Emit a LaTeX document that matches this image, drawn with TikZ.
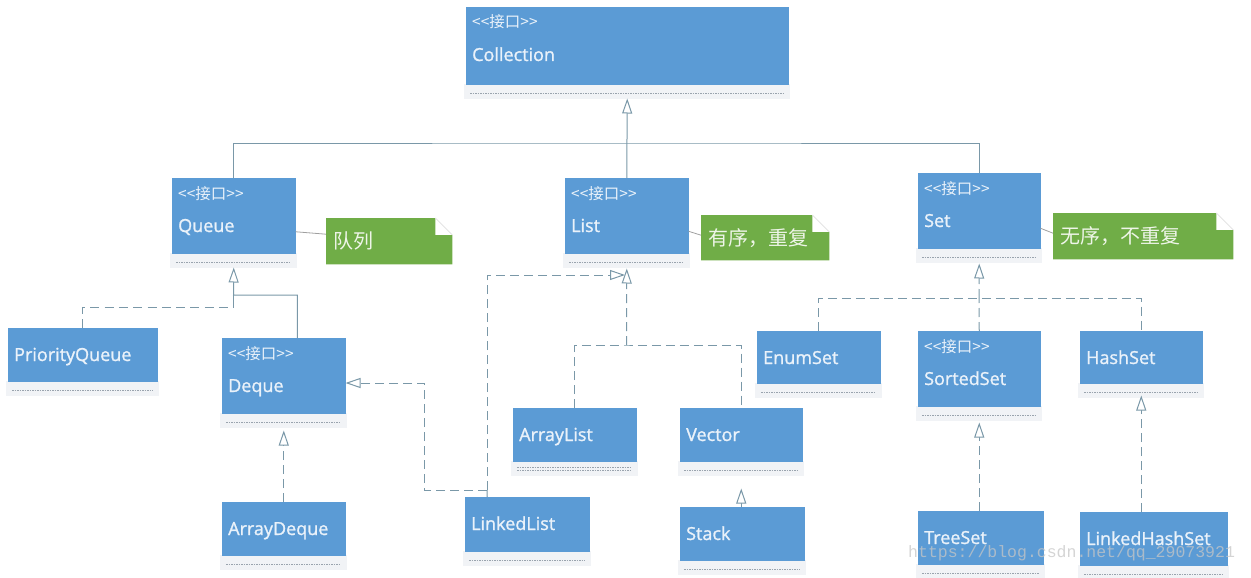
\documentclass[tikz,border=0pt]{standalone}
\usepackage{fontspec}
\setmainfont{Open Sans}
\newfontfamily\namefont[FakeBold=1.2]{Open Sans}
\newfontfamily\cjk{Noto Sans CJK SC}
\newfontfamily\wmfont{Liberation Mono}
\usetikzlibrary{arrows.meta}
\definecolor{boxblue}{HTML}{5B9BD5}
\definecolor{boxtext}{HTML}{EAF2FA}
\definecolor{stripbg}{HTML}{F1F3F6}
\definecolor{stripline}{HTML}{9AA4AE}
\definecolor{conncol}{HTML}{7A98A8}
\definecolor{notegreen}{HTML}{70AD47}
\definecolor{notetext}{HTML}{EEF5E8}
\tikzset{
  box/.style={fill=boxblue, draw=boxblue, line width=0.5pt, inner sep=0pt, rectangle},
  nm/.style={font=\namefont\fontsize{18}{21}\selectfont, text=boxtext, inner sep=0pt, anchor=base west},
  st/.style={font=\cjk\fontsize{15.5}{18}\selectfont, text=boxtext, inner sep=0pt, anchor=base west},
  stripfill/.style={fill=stripbg},
  stripdash/.style={draw=stripline, dash pattern=on 1.5pt off 1pt, line width=0.7pt},
  conn/.style={draw=conncol, line width=1pt},
  dconn/.style={conn, dash pattern=on 9pt off 5pt},
  gen/.style={-{Triangle[length=15pt, width=10pt, fill=white, line width=1pt]}},
  notearea/.style={inner sep=0pt, rectangle},
  notefill/.style={fill=notegreen},
  notefold/.style={draw=gray!25, line width=0.8pt},
  notetxt/.style={font=\cjk\fontsize{20}{24}\selectfont, text=notetext, inner sep=0pt, anchor=west},
  noteline/.style={draw=gray!75, line width=0.8pt},
  wm/.style={font=\wmfont\fontsize{16.5}{18}\selectfont, text=gray!45, opacity=0.75, inner sep=0pt, anchor=west}
}
% name, x, y, w, h
\newcommand\umlstrip[5]{%
  \fill[stripfill] (#2-2,#3+#5) rectangle (#2+#4+2,#3+#5+15);
  \draw[stripdash] (#2+4,#3+#5+9) -- (#2+#4-4,#3+#5+9);
  \node[box, minimum width=#4pt, minimum height=#5pt, anchor=north west] (#1) at (#2,#3) {};
}
% interface box: name, x, y, w, h, label
\newcommand\ifacebox[6]{%
  \umlstrip{#1}{#2}{#3}{#4}{#5}
  \node[st] (#1-st) at (#2+6,#3+21) {<<接口>>};
  \node[nm] (#1-nm) at (#2+6,#3+54) {#6};
}
% class box: name, x, y, w, h, label
\newcommand\classbox[6]{%
  \umlstrip{#1}{#2}{#3}{#4}{#5}
  \node[nm] (#1-nm) at (#2+6,#3+33) {#6};
}
% note: name, x, y, w, h, text
\newcommand\notebox[6]{%
  \node[notearea, minimum width=#4pt, minimum height=#5pt, anchor=north west] (#1) at (#2,#3) {};
  \fill[notefill] (#1.south west) -- (#1.north west) -- ([xshift=-17pt]#1.north east)
     -- ([xshift=-17pt,yshift=-17pt]#1.north east) -- ([yshift=-17pt]#1.north east)
     -- (#1.south east) -- cycle;
  \draw[notefold] ([xshift=-17pt]#1.north east) -- ([yshift=-17pt]#1.north east);
  \node[notetxt] (#1-t) at ([xshift=7pt]#1.west) {#6};
}
\begin{document}
\begin{tikzpicture}[x=1pt, y=-1pt]
\useasboundingbox (0,0) rectangle (1251,578);

% boxes
\ifacebox{coll}{466}{7}{322}{77}{Collection}
\ifacebox{queue}{172}{178}{123}{75}{Queue}
\ifacebox{list}{565}{178}{123}{75}{List}
\ifacebox{set}{918}{173}{122}{75}{Set}
\classbox{pq}{8}{328}{149}{53}{PriorityQueue}
\ifacebox{deque}{222}{338}{123}{75}{Deque}
\classbox{ad}{222}{502}{123}{53}{ArrayDeque}
\classbox{ll}{465}{497}{124}{54}{LinkedList}
\classbox{al}{513}{408}{123}{53}{ArrayList}
\draw[stripdash] (517,467) -- (632,467);
\classbox{vec}{680}{408}{122}{53}{Vector}
\classbox{stack}{680}{507}{124}{53}{Stack}
\classbox{es}{757}{331}{123}{52}{EnumSet}
\ifacebox{ss}{918}{331}{122}{75}{SortedSet}
\classbox{hs}{1080}{331}{122}{52}{HashSet}
\classbox{ts}{918}{511}{125}{53}{TreeSet}
\classbox{lhs}{1080}{512}{147}{53}{LinkedHashSet}

% notes
\notebox{n1}{326}{218}{126}{46}{队列}
\notebox{n2}{701}{215}{128}{45}{有序，重复}
\notebox{n3}{1053}{213}{180}{46}{无序，不重复}
\draw[noteline] ([yshift=-16pt]queue.east) -- ([yshift=7pt]n1.west);
\draw[noteline] ([yshift=-15.5pt]list.east) -- ([yshift=2.5pt]n2.west);
\draw[noteline] ([yshift=-17.5pt]set.east) -- ([yshift=3pt]n3.west);

% Collection
\coordinate (cbus) at (627,143);
\draw[conn,gen] (list.north) -- ([yshift=-14pt]coll.south);
\draw[conn] (queue.north) |- (cbus) -| (set.north);

% Queue
\coordinate (qj1) at (233.5,295);
\coordinate (qj2) at (233.5,307);
\draw[conn,gen] ([xshift=13.5pt]deque.north) |- (qj1) -- ([yshift=-14pt]queue.south);
\draw[dconn, dash pattern=on 9pt off 5.3pt] (pq.north) |- (qj2);
\draw[conn] (qj2) -- (qj1);

% LinkedList
\coordinate (llj) at (487,490);
\coordinate (lj2) at (424,383);
\coordinate (ltip) at (625,275);
\draw[dconn] ([xshift=-40pt]ll.north) -- (llj);
\draw[dconn,gen] (llj) -| (lj2) -- (deque.east |- lj2);
\draw[dconn,gen] (llj) |- (ltip);

% List
\coordinate (lbus) at (626.5,345);
\draw[dconn,gen] (lbus) -- ([yshift=-15pt]list.south);
\draw[dconn] (al.north) |- (lbus) -| (vec.north);

% Vector - Stack
\draw[conn,gen] (stack.north -| vec.south) -- ([yshift=-27pt]vec.south);

% ArrayDeque
\draw[dconn,gen] (ad.north) -- ([yshift=-17pt]deque.south);

% Set
\coordinate (sbus) at (979,298);
\draw[dconn,gen] (sbus) -- ([yshift=-15pt]set.south);
\draw[dconn] (es.north) |- (sbus) -| (hs.north);
\draw[dconn] (ss.north) -- (sbus);

% TreeSet
\draw[dconn,gen] (ss.south |- ts.north) -- ([yshift=-16pt]ss.south);

% LinkedHashSet
\draw[dconn,gen] (hs.south |- lhs.north) -- ([yshift=-12pt]hs.south);

% watermark
\node[wm] (wm) at (908,553) {https://blog.csdn.net/qq\_29073921};
\end{tikzpicture}
\end{document}
